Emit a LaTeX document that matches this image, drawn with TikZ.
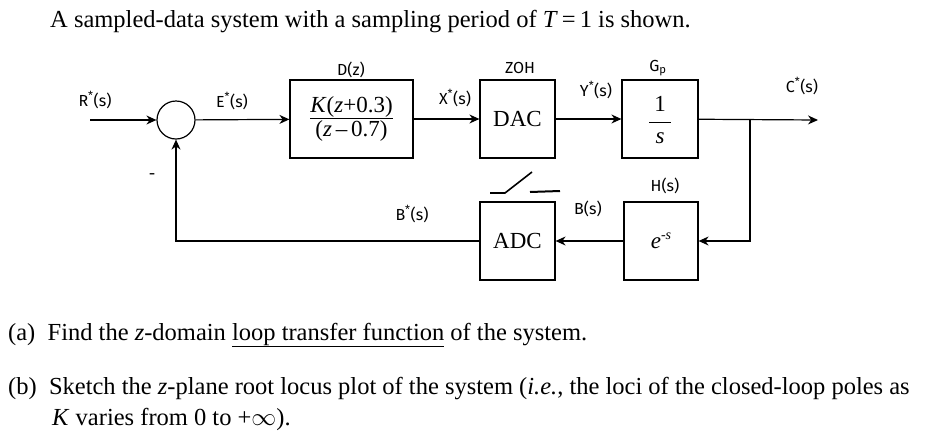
\documentclass[tikz,border=0pt]{standalone}
\usepackage{fontspec}
\setmainfont{Liberation Serif}
\newfontfamily\hand{Fira Sans}
\usetikzlibrary{arrows.meta}
\begin{document}
\begin{tikzpicture}[x=1pt,y=-1pt,
  blk/.style={draw,line width=1.2pt,minimum width=#1,minimum height=78pt,inner sep=0pt,font=\fontsize{23}{26}\selectfont},
  lnk/.style={line width=1.2pt,-{Stealth[length=10pt,width=9pt]}},
  hw/.style={font=\hand\fontsize{16}{18}\selectfont},
  txt/.style={anchor=west,font=\fontsize{24.5}{29}\selectfont,inner sep=0pt}]
\useasboundingbox (0,0) rectangle (940,437);
\node[txt] (t0) at (50,22) {A sampled-data system with a sampling period of \textit{T}\,=\,1 is shown.};
\node[draw,circle,line width=1.2pt,minimum size=38pt,inner sep=0pt] (sum) at (176,120) {};
\node[blk=123pt] (D) at (351.5,119) {\begin{tabular}{@{}c@{}}\underline{\textit{K}(\textit{z}+0.3)}\\[-2pt](\textit{z}\,–\,0.7)\end{tabular}};
\node[blk=75pt] (dac) at (517.5,119) {DAC};
\node[blk=76pt] (G) at (660,119) {\begin{tabular}{@{}c@{}}\raisebox{-6pt}{1}\\[-8pt]\rule{22pt}{1.4pt}\\[-6pt]\textit{s}\end{tabular}};
\node[blk=75pt] (adc) at (517.5,241) {ADC};
\node[blk=74pt] (H) at (661,241) {\textit{e}\raisebox{9pt}{\fontsize{14}{14}\selectfont\textit{-s}}};
\coordinate (in) at (90,120);
\coordinate (out) at (818,120);
\coordinate (br) at (750,120);
\coordinate (fb) at (176,241);
\draw[lnk] (in) -- (sum);
\draw[lnk] (sum) -- (D);
\draw[lnk] (D) -- (dac);
\draw[lnk] (dac) -- (G);
\draw[lnk] (G) -- (out);
\draw[lnk] (br) |- (H);
\draw[lnk] (H) -- (adc);
\draw[lnk] (adc) -- (fb) -- (sum);
\draw[line width=1.6pt] (490,193) -- (505,193) -- (532,172);
\draw[line width=2pt] (530,192) -- (560,191);
\node[hw] (l1) at (95,100) {R\textsuperscript{*}(s)};
\node[hw] (l2) at (232,101) {E\textsuperscript{*}(s)};
\node[font=\fontsize{18}{18}\selectfont] (l3) at (152,176) {-};
\node[hw] (l4) at (351,70) {D(z)};
\node[hw] (l5) at (455,98) {X\textsuperscript{*}(s)};
\node[hw] (l6) at (520,68) {ZOH};
\node[hw] (l7) at (596,90) {Y\textsuperscript{*}(s)};
\node[hw] (l8) at (658,68) {G\textsubscript{p}};
\node[hw] (l9) at (802,86) {C\textsuperscript{*}(s)};
\node[hw] (l10) at (412,214) {B\textsuperscript{*}(s)};
\node[hw] (l11) at (588,209) {B(s)};
\node[hw] (l12) at (665,186) {H(s)};
\node[txt] (a) at (8,335) {(a)\ \ Find the \textit{z}-domain \underline{loop transfer function} of the system.};
\node[txt] (b) at (8,389) {(b)\ \ Sketch the \textit{z}-plane root locus plot of the system (\textit{i.e.}, the loci of the closed-loop poles as};
\node[txt] (b2) at (52,419) {\textit{K} varies from 0 to +$\infty$).};
\end{tikzpicture}
\end{document}
